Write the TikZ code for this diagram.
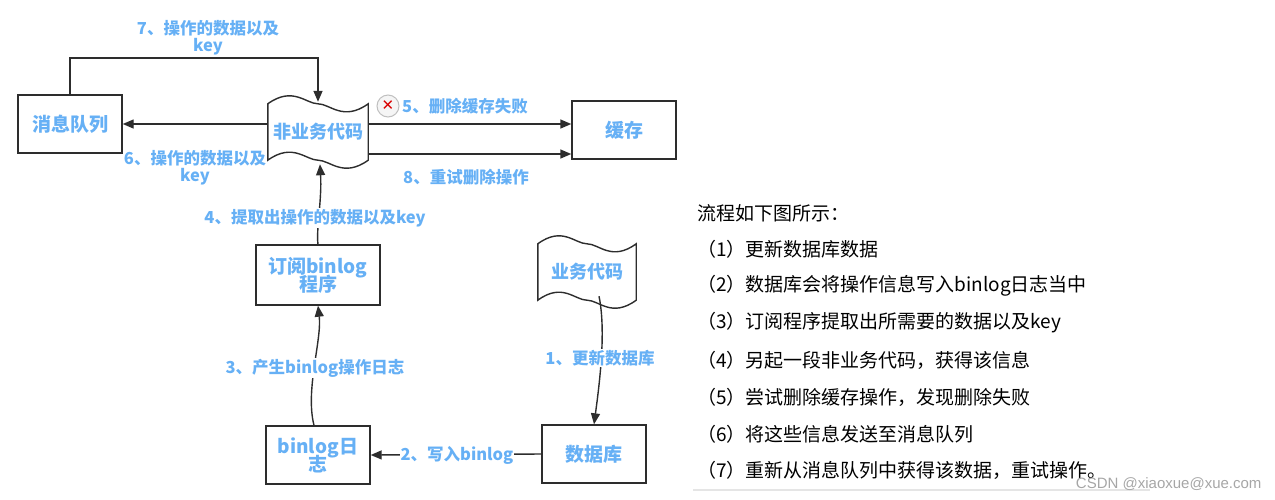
\documentclass[tikz,border=0pt]{standalone}
\usepackage{fontspec}
\setmainfont{Noto Sans CJK SC}
\newfontfamily\djv{DejaVu Sans}
\usetikzlibrary{arrows.meta,calc}
\definecolor{lb}{RGB}{102,176,245}
\definecolor{ln}{RGB}{45,45,45}
\newcommand\tapedraw[1]{%
 \draw[ln,line width=1.4pt,fill=white] (#1.north west) .. controls ($(#1.north west)!0.5!(#1.north)+(0,-18)$) and ($(#1.north)+(-12,0)$) .. (#1.north) .. controls ($(#1.north)+(12,0)$) and ($(#1.north)!0.5!(#1.north east)+(0,18)$) .. (#1.north east) -- (#1.south east) .. controls ($(#1.south east)!0.5!(#1.south)+(0,18)$) and ($(#1.south)+(12,0)$) .. (#1.south) .. controls ($(#1.south)+(-12,0)$) and ($(#1.south)!0.5!(#1.south west)+(0,-18)$) .. (#1.south west) -- cycle;}
\begin{document}
\begin{tikzpicture}[x=1pt,y=-1pt,
 box/.style={draw=ln,line width=1.4pt,fill=white,minimum width=104pt,minimum height=58pt,inner sep=0pt,align=center,font=\bfseries\fontsize{19}{21}\selectfont,text=lb},
 tp/.style={minimum width=100pt,minimum height=56pt,inner sep=0pt,font=\bfseries\fontsize{18}{21}\selectfont,text=lb},
 lab/.style={font=\bfseries\fontsize{16.5}{21}\selectfont,text=lb,align=center,inner sep=1pt},
 arr/.style={ln,line width=1.4pt,-{Triangle[length=11pt,width=9pt]}},
 txt/.style={anchor=west,font=\fontsize{19}{21}\selectfont,inner sep=0pt}]
\useasboundingbox (0,0) rectangle (1275,499);
\node[box] (mq) at (70,124) {消息队列};
\node[tp] (fy) at (318,132) {};
\tapedraw{fy}
\node[tp] at (318,132) {非业务代码};
\node[box] (hc) at (624,130) {缓存};
\node[box,minimum width=124pt,minimum height=60pt] (dy) at (318,275) {订阅binlog\\[-3pt]程序};
\node[tp,minimum width=98pt,minimum height=56pt] (yw) at (587,272) {};
\tapedraw{yw}
\node[tp] at (587,272) {业务代码};
\node[box] (db) at (594,454) {数据库};
\node[box] (bl) at (318,455) {binlog日\\[-3pt]志};
\coordinate (t1) at (70,58); \coordinate (t2) at (318,58);
\draw[arr] (mq.north) -- (t1) -- (t2) -- ($(fy.north)+(0,-2)$);
\node[lab] at (208,38) {7、操作的数据以及\\[-4pt]key};
\draw[arr] (fy.west |- mq.east) -- (mq.east);
\node[lab] at (195,168) {6、操作的数据以及\\[-4pt]key};
\draw[arr] (fy.east |- mq.east) -- (hc.west |- mq.east);
\draw[arr] ($(fy.east)+(0,22)$) -- ($(hc.west)+(0,24)$);
\node[circle,draw=gray!50,line width=1pt,fill=gray!8,minimum size=22pt,inner sep=0pt,text=red!85!black,font=\djv\bfseries\fontsize{15}{15}\selectfont] (x) at (388,106) {✕};
\node[lab,anchor=west] at (401,106) {5、删除缓存失败};
\node[lab] at (466,177) {8、重试删除操作};
\draw[arr] (dy.north) .. controls (316,230) and (322,200) .. ($(fy.south)+(2,4)$);
\node[lab,fill=white] at (315,218) {4、提取出操作的数据以及key};
\draw[arr] ($(yw.south)+(12,-4)$) .. controls (606,330) and (600,380) .. (db.north);
\node[lab,fill=white] at (600,358) {1、更新数据库};
\draw[arr] (db.west) -- (bl.east);
\node[lab,fill=white] at (457,455) {2、写入binlog};
\draw[arr] ($(bl.north)+(-4,0)$) .. controls (305,390) and (322,340) .. (dy.south);
\node[lab,fill=white] at (315,368) {3、产生binlog操作日志};
\node[txt] at (697,213) {流程如下图所示：};
\node[txt] at (697,249) {（1）更新数据库数据};
\node[txt] at (697,286) {（2）数据库会将操作信息写入binlog日志当中};
\node[txt] at (697,323) {（3）订阅程序提取出所需要的数据以及key};
\node[txt] at (697,360) {（4）另起一段非业务代码，获得该信息};
\node[txt] at (697,397) {（5）尝试删除缓存操作，发现删除失败};
\node[txt] at (697,434) {（6）将这些信息发送至消息队列};
\node[txt] at (697,470) {（7）重新从消息队列中获得该数据，重试操作。};
\draw[gray!20,line width=2pt] (693,490) -- (1150,490);
\node[anchor=east,text=gray!70,font=\fontsize{15}{15}\selectfont] at (1265,484) {\fontspec{Liberation Sans}CSDN @xiaoxue@xue.com};
\end{tikzpicture}
\end{document}
